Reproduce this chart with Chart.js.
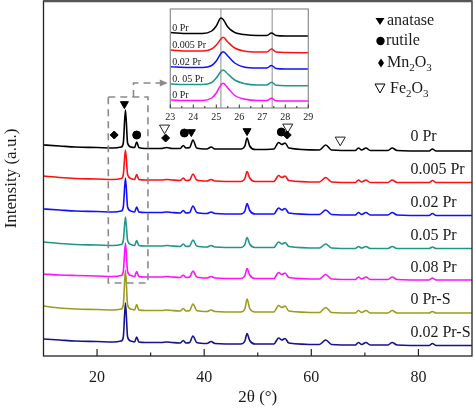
<!DOCTYPE html>
<html><head><meta charset="utf-8">
<script src="https://cdn.jsdelivr.net/npm/chart.js@4.4.0/dist/chart.umd.min.js"></script>
<style>
html,body{margin:0;padding:0;background:#fff;}
#wrap{position:relative;width:474px;height:411px;overflow:hidden;}
#main{position:absolute;left:0;top:0;}
#inset{position:absolute;left:150px;top:0;}
</style></head><body>
<div id="wrap"><canvas id="main" width="474" height="411"></canvas><canvas id="inset" width="167" height="125"></canvas></div>
<script>
// ---------- DATA ----------
const seriesNames = ['0 Pr','0.005 Pr','0.02 Pr','0.05 Pr','0.08 Pr','0 Pr-S','0.02 Pr-S'];
const seriesColors = ['#000000','#ff1010','#1010ff','#20968a','#ff10ff','#9c9c1c','#14148c'];
const seriesOffsets = [211,180,147,114,82,50,17];
const angles = [10,13,16,20,23,24.5,24.9,25.3,25.7,26.3,27.0,27.4,27.8,29,32,33,34,35.5,36.1,36.6,37.3,37.9,38.6,40.5,41.3,42,46.8,47.6,48.0,48.5,49.5,53.0,53.9,54.5,55.1,55.8,61.5,62.7,63.8,68.2,68.8,69.4,70.2,71.0,74.3,75.1,76.0,82.0,82.6,83.3,90];
const pr0     = [0,-1,-2,-2.5,-3,-2,2,35,2,-2,-2.5,3,-2.5,-3.5,-3.5,-2.5,-3.5,-3.5,-0.5,-3,-2.5,5,-3,-4,-2,-4,-4,-1,7,-1,-4.5,-4,2.5,0.5,2,-3,-5,0,-5,-5.5,-3,-5,-3,-5.5,-5.5,-3,-5.5,-6,-4,-6,-6];
const pr0005  = [0,-1.5,-2.5,-3,-3.5,-2.5,1.5,26,1.5,-2.5,-3.5,1.5,-3.5,-4,-4,-3.5,-4,-4.5,-2,-4.5,-4,2,-4,-5,-3.5,-5,-5.5,-2.5,4.5,-2,-5.5,-5.5,0.5,-1.5,0,-4.5,-6,-1.5,-6,-6.5,-4,-6,-4,-6.5,-6.5,-4,-6.5,-6.5,-4.5,-6.5,-6.5];
const pr002   = [0,-1,-2,-2.5,-3,-2,2,31,2,-2,-3,2,-3,-3.5,-3.5,-3,-3.5,-4,-1.5,-4,-3.5,3,-3.5,-4.5,-3,-4.5,-5,-2,5.5,-1.5,-5,-5,1,-1,0.5,-4,-5.5,-1,-5.5,-6,-3.5,-5.5,-3.5,-6,-6,-3.5,-6,-6.5,-4.5,-6.5,-6.5];
const pr005   = [0,-1.5,-2.5,-3,-3.5,-2.5,1.5,25,1.5,-2.5,-3.5,1.5,-3.5,-4,-4,-3.5,-4,-4.5,-2,-4.5,-4,2,-4,-5,-3.5,-5,-5.5,-2.5,4.5,-2,-5.5,-5.5,0,-2,-0.5,-4.5,-6,-2,-6,-6.5,-4.5,-6,-4.5,-6.5,-6.5,-4.5,-6.5,-6.5,-5,-6.5,-6.5];
const pr008   = [0,-1,-1.5,-2,-2.5,-1.5,2.5,31,2.5,-1.5,-2.5,2.5,-2.5,-3,-3,-2.5,-3,-3.5,-1,-3.5,-3,3,-3,-4,-2.5,-4,-4.5,-1.5,5.5,-1,-4.5,-4.5,1.5,-0.5,1,-3.5,-5,-0.5,-5,-5.5,-3,-5,-3,-5.5,-5.5,-3,-5.5,-6,-4,-6,-6];
const pr0S    = [0,-2,-3,-3.5,-4,-3,1,36,1,-3,-4,1.5,-4,-4.5,-4.5,-4,-4.5,-5,-2.5,-5,-4.5,2,-4.5,-5.5,-4,-5.5,-6,-3,7,-2.5,-6,-6,0.5,-1.5,0,-5,-6.5,-1.5,-6.5,-7,-4.5,-6.5,-4.5,-7,-7,-4.5,-7,-7,-5.5,-7,-7];
const pr002S  = [0,-1,-2,-2.5,-3,-2,2,36,2,-2,-3,2,-3,-3.5,-3.5,-3,-3.5,-4,-1.5,-4,-3.5,3,-3.5,-4.5,-2.5,-4.5,-5,-2,5.5,-1.5,-5,-5,1,-1,0.5,-4,-5.5,-1,-5.5,-6,-3.5,-5.5,-3.5,-6,-6,-3.5,-6,-6.5,-4.5,-6.5,-6.5];
const seriesValues = [pr0,pr0005,pr002,pr005,pr008,pr0S,pr002S];

// phase markers (on the 0 Pr pattern)
const anataseX = [25.1,37.6,48.0],  anataseY = [252,224,225];
const rutileX  = [27.4,36.3,54.4],  rutileY  = [221,223,224];
const mn2o3X   = [23.2,32.8,55.5],  mn2o3Y   = [221,218,221];
const fe2o3X   = [32.6,55.6,65.4],  fe2o3Y   = [228,229,216];

const xTickLabels = [20,40,60,80];
const xMinorTicks = [30,50,70];

// inset
const insetNames = ['0 Pr','0.005 Pr','0.02 Pr','0. 05 Pr','0 Pr'];
const insetColors = ['#000000','#ff1010','#1010ff','#20968a','#ff10ff'];
const insetAngles = [23,23.8,24.4,24.8,25.0,25.2,25.3,25.5,25.8,26.2,26.8,27.2,27.4,27.6,28,29];
const inPr0    = [75.5,74.5,74.5,77,82,90,88.5,81,75.5,73.5,72.5,72.5,75,72.5,72,72];
const inPr0005 = [58,57,57,59,63,69,70.7,66,60,57,56,56,59,56,55.5,55.3];
const inPr002  = [41.3,40.5,40.5,42.5,47,54.5,56.3,52,45,41,40,40,42.5,39.5,39,39];
const inPr005  = [24,23.5,23.5,25.5,30,36.5,38,34,28,24.5,23,23,25.7,22.7,22.3,22.3];
const inPr008  = [8,7.5,7.5,10,15,23,24.7,20,12.5,9,7.5,7.5,9.7,7.2,7,7];
const insetValues = [inPr0,inPr0005,inPr002,inPr005,inPr008];
const insetRefLines = [25.2,27.43];
const insetTicks = [23,24,25,26,27,28,29];

// zoom box (x in degrees, y in a.u.)
const zoomBoxX = [22.1,29.5], zoomBoxY = [73,259];
const arrowX = [26.8,33.2], arrowY = 273;

// ---------- sanity ----------
seriesValues.forEach((s,i)=>{ if(s.length!==angles.length) throw new Error('len '+i+' '+s.length); });
insetValues.forEach((s,i)=>{ if(s.length!==insetAngles.length) throw new Error('inset len '+i+' '+s.length); });

const SERIF = '"Liberation Serif", "Times New Roman", serif';
const TXT = '#1a1a1a';

function pts(xs, ys){ return xs.map((v,i)=>({x:v, y:ys[i]})); }

const lineSets = seriesValues.map((vals,i)=>({
  label: seriesNames[i],
  data: angles.map((a,k)=>({x:a, y:seriesOffsets[i]+vals[k]})),
  borderColor: seriesColors[i], borderWidth: 1.6, pointRadius: 0,
  cubicInterpolationMode: 'monotone', fill:false, order: 10+i
}));
const markerSets = [
  {data: pts(anataseX,anataseY), pointStyle:'triangle', rotation:180, pointRadius:4.6, backgroundColor:'#000', borderColor:'#000', borderWidth:1},
  {data: pts(rutileX,rutileY), pointStyle:'circle', pointRadius:4, backgroundColor:'#000', borderColor:'#000', borderWidth:1},
  {data: pts(mn2o3X,mn2o3Y), pointStyle:'rectRot', pointRadius:4, backgroundColor:'#000', borderColor:'#000', borderWidth:1},
  {data: pts(fe2o3X,fe2o3Y), pointStyle:'triangle', rotation:180, pointRadius:5.8, backgroundColor:'rgba(255,255,255,0)', borderColor:'#222', borderWidth:1}
].map(d=>Object.assign({showLine:false, order:0}, d));

function chem(ctx, parts, x, y, big, small){
  let cx = x;
  parts.forEach(([t,sub])=>{
    ctx.font = (sub?small:big)+'px '+SERIF;
    ctx.fillText(t, cx, sub ? y+5 : y);
    cx += ctx.measureText(t).width;
  });
}

const mainDecor = {
  id:'mainDecor',
  afterDatasetsDraw(chart){
    const {ctx, chartArea:a, scales:{x,y}} = chart;
    ctx.save();
    // dashed zoom box
    ctx.strokeStyle='#8a8a8a'; ctx.lineWidth=1.6; ctx.setLineDash([7,5]);
    const bx1=x.getPixelForValue(zoomBoxX[0]), bx2=x.getPixelForValue(zoomBoxX[1]);
    const by1=y.getPixelForValue(zoomBoxY[1]), by2=y.getPixelForValue(zoomBoxY[0]);
    ctx.strokeRect(bx1,by1,bx2-bx1,by2-by1);
    const ax=x.getPixelForValue(arrowX[0]), ax2=x.getPixelForValue(arrowX[1]), ay=y.getPixelForValue(arrowY);
    ctx.beginPath(); ctx.moveTo(ax,by1); ctx.lineTo(ax,ay); ctx.lineTo(ax2-6,ay); ctx.stroke();
    ctx.setLineDash([]); ctx.fillStyle='#8a8a8a';
    ctx.beginPath(); ctx.moveTo(ax2,ay); ctx.lineTo(ax2-8,ay-3.5); ctx.lineTo(ax2-8,ay+3.5); ctx.closePath(); ctx.fill();
    // frame
    ctx.strokeStyle='#222'; ctx.lineWidth=1.3;
    ctx.strokeRect(a.left, a.top, a.right-a.left, a.bottom-a.top);
    ctx.strokeStyle='#555'; ctx.lineWidth=2.5;
    ctx.beginPath(); ctx.moveTo(a.left, a.top); ctx.lineTo(a.right, a.top); ctx.stroke();
    // inward ticks
    ctx.strokeStyle='#222'; ctx.lineWidth=1.2;
    xTickLabels.forEach(v=>{const p=x.getPixelForValue(v); ctx.beginPath(); ctx.moveTo(p,a.bottom); ctx.lineTo(p,a.bottom-7); ctx.stroke();});
    xMinorTicks.forEach(v=>{const p=x.getPixelForValue(v); ctx.beginPath(); ctx.moveTo(p,a.bottom); ctx.lineTo(p,a.bottom-3.5); ctx.stroke();});
    // series labels
    ctx.fillStyle=TXT; ctx.font='16px '+SERIF; ctx.textAlign='left'; ctx.textBaseline='middle';
    const lx = x.getPixelForValue(78.5);
    seriesNames.forEach((n,i)=>{ ctx.fillText(n, lx, y.getPixelForValue(seriesOffsets[i] + (i===0?8:6))); });
    // legend
    const mx = 380;
    ctx.fillStyle='#000'; ctx.strokeStyle='#000';
    ctx.beginPath(); ctx.moveTo(mx-4.5,18); ctx.lineTo(mx+4.5,18); ctx.lineTo(mx,25); ctx.closePath(); ctx.fill();
    ctx.beginPath(); ctx.arc(mx+0.5,41,4.2,0,Math.PI*2); ctx.fill();
    ctx.beginPath(); ctx.moveTo(mx+1,58.5); ctx.lineTo(mx+4,63); ctx.lineTo(mx+1,67.5); ctx.lineTo(mx-2,63); ctx.closePath(); ctx.fill();
    ctx.lineWidth=1; ctx.beginPath(); ctx.moveTo(mx-5,84); ctx.lineTo(mx+5,84); ctx.lineTo(mx,93); ctx.closePath(); ctx.stroke();
    ctx.fillStyle=TXT; ctx.textBaseline='middle';
    ctx.font='16px '+SERIF; ctx.fillText('anatase', 387, 21);
    ctx.fillText('rutile', 386, 41);
    chem(ctx, [['Mn',0],['2',1],['O',0],['3',1]], 387, 63, 16, 11);
    chem(ctx, [['Fe',0],['2',1],['O',0],['3',1]], 390, 89, 16, 11);
    ctx.restore();
  }
};

new Chart(document.getElementById('main'), {
  type:'line',
  data:{datasets:[...markerSets, ...lineSets]},
  options:{
    responsive:false, animation:false, devicePixelRatio:1,
    layout:{autoPadding:false, padding:{top:1,right:2,left:0,bottom:0}},
    plugins:{legend:{display:false}, tooltip:{enabled:false}},
    scales:{
      x:{type:'linear', min:10, max:90,
         afterFit(s){ s.height = 55; s.paddingLeft = 0; s.paddingRight = 0; },
         border:{display:false}, grid:{display:false, drawTicks:false},
         ticks:{stepSize:10, autoSkip:false, maxRotation:0, padding:12, color:TXT, font:{family:SERIF, size:16},
                callback:v=> xTickLabels.includes(v) ? String(v) : ''},
         title:{display:true, text:'2θ (°)', color:TXT, font:{family:SERIF, size:17}, padding:{top:0,bottom:3}}},
      y:{type:'linear', min:0, max:355,
         afterFit(s){ s.width = 43.5; s.paddingTop = 0; s.paddingBottom = 0; },
         border:{display:false}, grid:{display:false, drawTicks:false},
         ticks:{display:false},
         title:{display:true, text:'Intensity (a.u.)', color:TXT, font:{family:SERIF, size:17}, padding:{top:1,bottom:0}}}
    }
  },
  plugins:[mainDecor]
});

// ---------- INSET ----------
const insetDecor = {
  id:'insetDecor',
  beforeDatasetsDraw(chart){
    const {ctx, chartArea:a, scales:{x}} = chart;
    ctx.save();
    ctx.fillStyle='#fff'; ctx.fillRect(a.left,a.top,a.right-a.left,a.bottom-a.top);
    ctx.strokeStyle='#a0a0a0'; ctx.lineWidth=1.2;
    insetRefLines.forEach(v=>{const p=x.getPixelForValue(v); ctx.beginPath(); ctx.moveTo(p,a.top); ctx.lineTo(p,a.bottom); ctx.stroke();});
    ctx.restore();
  },
  afterDatasetsDraw(chart){
    const {ctx, chartArea:a, scales:{x,y}} = chart;
    ctx.save();
    ctx.strokeStyle='#8c8c8c'; ctx.lineWidth=1.2;
    ctx.strokeRect(a.left,a.top,a.right-a.left,a.bottom-a.top);
    ctx.strokeStyle='#333'; ctx.lineWidth=1;
    insetTicks.forEach(v=>{const p=x.getPixelForValue(v); ctx.beginPath(); ctx.moveTo(p,a.bottom); ctx.lineTo(p,a.bottom-3.5); ctx.stroke();
      if(v<29){const q=x.getPixelForValue(v+0.5); ctx.beginPath(); ctx.moveTo(q,a.bottom); ctx.lineTo(q,a.bottom-2); ctx.stroke();}});
    ctx.fillStyle=TXT; ctx.font='10px '+SERIF; ctx.textAlign='left'; ctx.textBaseline='middle';
    insetNames.forEach((n,i)=>{ ctx.fillText(n, a.left+2, y.getPixelForValue(insetValues[i][0]+4.5)); });
    ctx.restore();
  }
};

new Chart(document.getElementById('inset'), {
  type:'line',
  data:{datasets: insetValues.map((vals,i)=>({
    label: insetNames[i],
    data: insetAngles.map((a,k)=>({x:a, y:vals[k]})),
    borderColor: insetColors[i], borderWidth:1.5, pointRadius:0,
    cubicInterpolationMode:'monotone', fill:false
  }))},
  options:{
    responsive:false, animation:false, devicePixelRatio:1,
    layout:{autoPadding:false, padding:{top:9,right:8.7,left:20.3,bottom:0}},
    plugins:{legend:{display:false}, tooltip:{enabled:false}},
    scales:{
      x:{type:'linear', min:23, max:29,
         afterFit(s){ s.height = 17; },
         border:{display:false}, grid:{display:false, drawTicks:false},
         ticks:{stepSize:1, autoSkip:false, maxRotation:0, padding:3, color:TXT, font:{family:SERIF, size:10}}},
      y:{type:'linear', min:0, max:99, display:false}
    }
  },
  plugins:[insetDecor]
});
</script>
</body></html>
